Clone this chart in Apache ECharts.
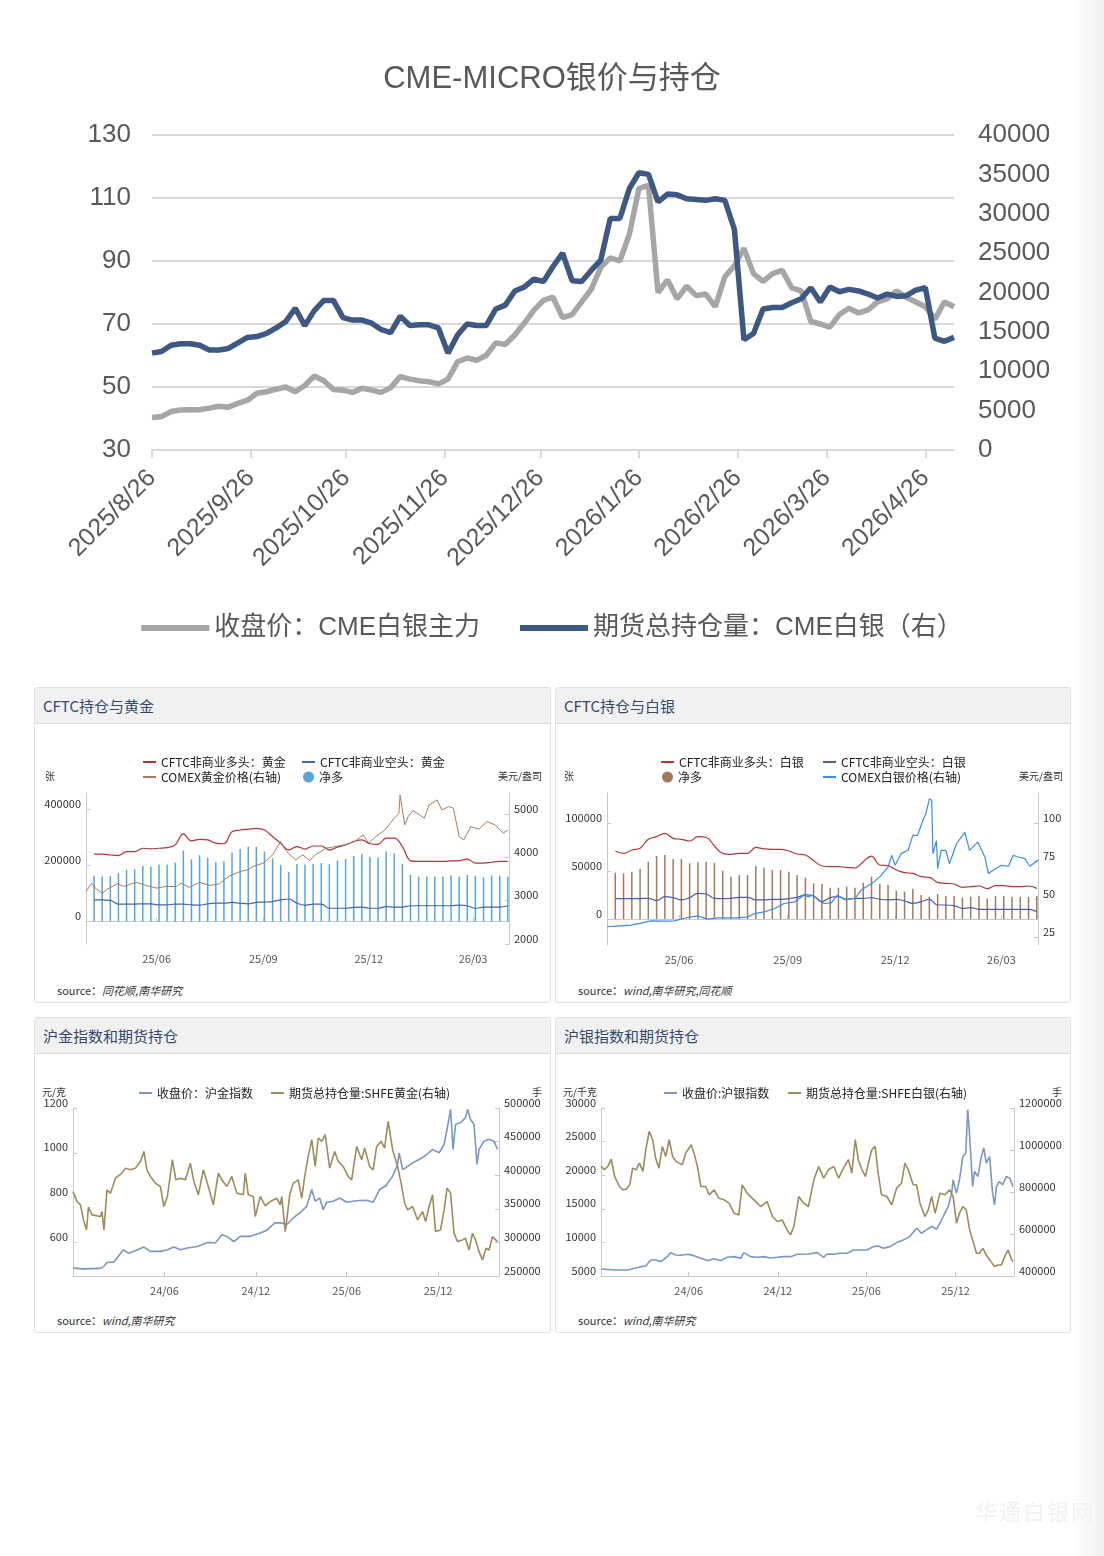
<!DOCTYPE html>
<html lang="zh-CN">
<head>
<meta charset="utf-8">
<title>CME-MICRO银价与持仓</title>
<script src="https://cdn.jsdelivr.net/npm/echarts@6/dist/echarts.min.js"></script>
<style>
  html, body { margin: 0; padding: 0; background: #fff; }
  body { width: 1104px; height: 1556px; position: relative; overflow: hidden; font-family: "Noto Sans CJK SC", "Noto Sans", sans-serif; }
  .chart { position: absolute; }
  .panel { position: absolute; box-sizing: border-box; border: 1px solid #e2e2e2; border-radius: 3px; background: #fff; }
  .panel .hd { height: 35px; line-height: 35px; background: #f1f1f1; border-bottom: 1px solid #dadada; padding-left: 8px; font-size: 15px; color: #33496c; }
  .src { position: absolute; font-size: 11px; color: #333; line-height: 16px; }
  .src i { font-style: italic; }
  .edge { position: absolute; right: 0; top: 0; width: 30px; height: 1556px; background: linear-gradient(to right, rgba(255,255,255,0), #f1f1f1); }
  .mark { position: absolute; left: 975px; top: 1494px; font-size: 22px; color: #f1f1f1; letter-spacing: 2px; }
</style>
</head>
<body>
<div id="cme" class="chart" style="left:0;top:0;width:1104px;height:670px"></div>

<div class="panel" style="left:34px;top:687px;width:517px;height:316px"><div class="hd">CFTC持仓与黄金</div></div>
<div class="panel" style="left:555px;top:687px;width:516px;height:316px"><div class="hd">CFTC持仓与白银</div></div>
<div class="panel" style="left:34px;top:1017px;width:517px;height:316px"><div class="hd">沪金指数和期货持仓</div></div>
<div class="panel" style="left:555px;top:1017px;width:516px;height:316px"><div class="hd">沪银指数和期货持仓</div></div>

<div id="goldCftc" class="chart" style="left:34px;top:724px;width:517px;height:255px"></div>
<div id="silverCftc" class="chart" style="left:555px;top:724px;width:516px;height:255px"></div>
<div id="goldShfe" class="chart" style="left:34px;top:1054px;width:517px;height:255px"></div>
<div id="silverShfe" class="chart" style="left:555px;top:1054px;width:516px;height:255px"></div>

<div class="src" style="left:57px;top:982px">source：<i>同花顺,南华研究</i></div>
<div class="src" style="left:578px;top:982px">source：<i>wind,南华研究,同花顺</i></div>
<div class="src" style="left:57px;top:1312px">source：<i>wind,南华研究</i></div>
<div class="src" style="left:578px;top:1312px">source：<i>wind,南华研究</i></div>

<div class="edge"></div>
<div class="mark">华通白银网</div>

<script>
// ---------- 数据 ----------
// CME 图：从 2025-08-26 起每 3 天读一个点
const cmeStartDate = '2025-08-26';
const cmeEndDate = '2026-05-05';
const cmeStepDays = 3;
const cmeTickDates = ['2025-08-26', '2025-09-26', '2025-10-26', '2025-11-26', '2025-12-26',
  '2026-01-26', '2026-02-26', '2026-03-26', '2026-04-26'];
const cmePrice = [
  40.3, 40.6, 42.2, 42.7, 42.8, 42.8, 43.3, 43.9, 43.6, 44.8,
  45.8, 48.0, 48.5, 49.3, 50.0, 48.5, 50.5, 53.5, 52.0, 49.2,
  49.0, 48.3, 49.6, 49.0, 48.3, 49.8, 53.3, 52.5, 52.0, 51.7,
  51.0, 52.5, 58.0, 59.2, 58.5, 60.0, 64.0, 63.5, 66.5, 70.3,
  74.4, 77.5, 78.5, 72.0, 73.0, 77.0, 81.0, 88.0, 91.0, 90.0,
  98.5, 113.0, 114.0, 80.0, 84.0, 78.0, 82.0, 79.0, 79.5, 75.5,
  85.0, 88.5, 94.0, 86.0, 83.5, 86.0, 87.0, 81.5, 80.5, 70.8,
  70.0, 69.0, 73.0, 75.0, 73.5, 74.5, 77.0, 78.0, 80.5, 78.5,
  77.0, 75.5, 71.5, 77.0, 75.5
];
const cmeOpenInterest = [
  12300, 12500, 13300, 13500, 13500, 13300, 12700, 12700, 12900, 13600,
  14300, 14400, 14800, 15500, 16300, 18000, 15800, 17700, 19000, 19000,
  16800, 16500, 16500, 16100, 15300, 14900, 17000, 15800, 15900, 15900,
  15500, 12300, 14600, 16000, 15800, 15800, 17900, 18400, 20200, 20700,
  21700, 21400, 23300, 25000, 21500, 21400, 22800, 24100, 29400, 29400,
  33200, 35200, 35000, 31500, 32500, 32400, 31900, 31800, 31700, 31900,
  31700, 28000, 14000, 14800, 17900, 18100, 18100, 18700, 19200, 20600,
  18800, 20700, 20100, 20400, 20200, 19800, 19300, 19800, 19500, 19600,
  20300, 20600, 14200, 13800, 14300
];

// CFTC 周度数据
const cftcWeeks = [
  '2025-04-08', '2025-04-15', '2025-04-22', '2025-04-29', '2025-05-06', '2025-05-13', '2025-05-20', '2025-05-27',
  '2025-06-03', '2025-06-10', '2025-06-17', '2025-06-24', '2025-07-01', '2025-07-08', '2025-07-15', '2025-07-22',
  '2025-07-29', '2025-08-05', '2025-08-12', '2025-08-19', '2025-08-26', '2025-09-02', '2025-09-09', '2025-09-16',
  '2025-09-23', '2025-09-30', '2025-10-07', '2025-10-14', '2025-10-21', '2025-10-28', '2025-11-04', '2025-11-11',
  '2025-11-18', '2025-11-25', '2025-12-02', '2025-12-09', '2025-12-16', '2025-12-23', '2025-12-30', '2026-01-06',
  '2026-01-13', '2026-01-20', '2026-01-27', '2026-02-03', '2026-02-10', '2026-02-17', '2026-02-24', '2026-03-03',
  '2026-03-10', '2026-03-17', '2026-03-24', '2026-03-31'
];
const goldLong = [
  240000, 240000, 237000, 235000, 249000, 249000, 261000, 259000, 261000, 263000,
  273000, 312000, 287000, 293000, 291000, 279000, 277000, 320000, 326000, 329000,
  332000, 326000, 303000, 279000, 255000, 267000, 258000, 269000, 269000, 255000,
  265000, 273000, 285000, 291000, 277000, 275000, 297000, 297000, 267000, 217000,
  214000, 214000, 214000, 214000, 216000, 217000, 222000, 208000, 208000, 211000, 214000, 214000
];
const goldShort = [
  77000, 77000, 75000, 62000, 62000, 62000, 63000, 63000, 59000, 59000,
  62000, 62000, 59000, 58000, 63000, 65000, 65000, 68000, 65000, 63000,
  68000, 69000, 71000, 77000, 80000, 65000, 58000, 62000, 62000, 47000,
  47000, 47000, 50000, 51000, 47000, 47000, 53000, 51000, 51000, 56000,
  56000, 56000, 56000, 56000, 56000, 58000, 56000, 47000, 51000, 51000, 51000, 56000
];
const goldNet = [
  162600, 160000, 162600, 172000, 184000, 186000, 198000, 196000, 202000, 202000,
  210000, 253000, 222000, 236000, 228000, 211000, 215000, 246000, 258000, 266000,
  266000, 249000, 225000, 202000, 176000, 205000, 202000, 205000, 208000, 204000,
  217000, 223000, 234000, 240000, 231000, 228000, 249000, 243000, 205000, 166000,
  160000, 160000, 160000, 160000, 164000, 160000, 166000, 163000, 157000, 163000, 163000, 160000
];
const comexGold = [
  ['2025-04-01', 3215], ['2025-04-06', 3407], ['2025-04-09', 3292], ['2025-04-15', 3177], ['2025-04-21', 3292],
  ['2025-04-28', 3392], ['2025-05-04', 3330], ['2025-05-10', 3392], ['2025-05-15', 3423], ['2025-05-23', 3353],
  ['2025-06-01', 3292], ['2025-06-09', 3330], ['2025-06-18', 3330], ['2025-06-22', 3407], ['2025-06-29', 3307],
  ['2025-07-08', 3423], ['2025-07-17', 3353], ['2025-07-25', 3392], ['2025-08-03', 3576], ['2025-08-12', 3676],
  ['2025-08-19', 3715], ['2025-08-23', 3792], ['2025-09-01', 3869], ['2025-09-09', 4061], ['2025-09-16', 4369],
  ['2025-09-19', 4215], ['2025-09-24', 4061], ['2025-09-29', 3946], ['2025-10-05', 4061], ['2025-10-11', 3930],
  ['2025-10-16', 4061], ['2025-10-25', 4215], ['2025-11-02', 4253], ['2025-11-10', 4292], ['2025-11-19', 4369],
  ['2025-11-26', 4522], ['2025-12-01', 4330], ['2025-12-07', 4484], ['2025-12-15', 4638], ['2025-12-23', 4907],
  ['2025-12-27', 5022], ['2025-12-28', 5445], ['2026-01-01', 4753], ['2026-01-04', 4945], ['2026-01-08', 5084],
  ['2026-01-14', 4984], ['2026-01-18', 4907], ['2026-01-22', 5214], ['2026-01-29', 5330], ['2026-02-02', 5099],
  ['2026-02-08', 5176], ['2026-02-12', 5138], ['2026-02-17', 4484], ['2026-02-21', 4407], ['2026-02-27', 4715],
  ['2026-03-06', 4653], ['2026-03-13', 4830], ['2026-03-20', 4753], ['2026-03-27', 4561], ['2026-03-31', 4638]
];

const silverLong = [
  71100, 68600, 72100, 73900, 83300, 86100, 89500, 84300, 83300, 81500,
  86100, 85400, 76300, 68600, 67600, 68600, 68600, 74900, 73200, 72800,
  72800, 71100, 67900, 66900, 61000, 55400, 54700, 54700, 54000, 53300,
  59900, 65800, 56400, 55700, 51200, 48400, 47700, 44200, 43500, 38300,
  37300, 36600, 33100, 33800, 34500, 31700, 34800, 34800, 33800, 33800, 34500, 32000
];
const silverShort = [
  21300, 21300, 21300, 21300, 21600, 19200, 23300, 22300, 19900, 22300,
  26800, 26100, 21600, 21300, 21600, 22600, 22600, 19900, 19900, 20600,
  20600, 21300, 22600, 25100, 24000, 18100, 22300, 23300, 20600, 21600,
  21600, 22300, 20600, 19900, 20600, 18800, 16400, 18100, 20600, 14600,
  14600, 13900, 11100, 11800, 10100, 10100, 10100, 10100, 10100, 10100, 10100, 7700
];
const silverNet = [
  48400, 47700, 49500, 52300, 59900, 65800, 66900, 62700, 62700, 58200,
  59200, 59900, 58900, 50500, 44200, 46000, 46000, 55400, 53700, 51200,
  51200, 49500, 46000, 43200, 37300, 36600, 32700, 32700, 33800, 32700,
  38000, 44200, 36600, 35500, 29600, 28600, 31700, 25100, 23300, 26100,
  24000, 24000, 22300, 23300, 24000, 21300, 24000, 24000, 23300, 23300, 23300, 24000
];
const comexSilver = [
  ['2025-04-01', 32.0], ['2025-04-12', 32.6], ['2025-04-21', 33.1], ['2025-04-29', 34.2], ['2025-05-08', 35.9],
  ['2025-05-19', 35.7], ['2025-05-28', 35.9], ['2025-06-08', 38.1], ['2025-06-17', 39.2], ['2025-06-25', 37.0],
  ['2025-07-04', 37.9], ['2025-07-12', 37.9], ['2025-07-21', 37.9], ['2025-07-29', 38.5], ['2025-08-04', 40.7],
  ['2025-08-12', 41.8], ['2025-08-21', 44.0], ['2025-08-29', 47.3], ['2025-09-07', 48.4], ['2025-09-15', 52.8],
  ['2025-09-18', 51.7], ['2025-09-22', 52.8], ['2025-09-27', 49.5], ['2025-10-02', 47.3], ['2025-10-08', 47.7],
  ['2025-10-13', 52.8], ['2025-10-19', 49.9], ['2025-10-28', 50.6], ['2025-11-02', 56.0], ['2025-11-11', 60.4],
  ['2025-11-18', 64.8], ['2025-11-25', 71.3], ['2025-11-28', 79.0], ['2025-12-01', 72.4], ['2025-12-06', 80.1],
  ['2025-12-12', 82.3], ['2025-12-16', 92.1], ['2025-12-20', 92.1], ['2025-12-25', 103.1], ['2025-12-27', 106.3],
  ['2025-12-30', 116.2], ['2026-01-01', 115.1], ['2026-01-02', 80.1], ['2026-01-05', 88.8], ['2026-01-06', 70.2],
  ['2026-01-09', 82.3], ['2026-01-13', 82.3], ['2026-01-16', 73.5], ['2026-01-22', 86.6], ['2026-01-29', 94.3],
  ['2026-02-02', 82.3], ['2026-02-09', 87.7], ['2026-02-15', 77.9], ['2026-02-18', 67.0], ['2026-02-24', 70.2],
  ['2026-03-01', 72.4], ['2026-03-07', 71.8], ['2026-03-11', 79.0], ['2026-03-15', 77.9], ['2026-03-21', 76.8],
  ['2026-03-25', 71.8], ['2026-04-01', 75.7]
];

// 沪金
const shfeGoldIndex = [
  ['2023-12-01', 485], ['2023-12-22', 482], ['2024-01-25', 484], ['2024-02-01', 493], ['2024-02-07', 510],
  ['2024-02-21', 512], ['2024-02-27', 530], ['2024-03-11', 567], ['2024-03-21', 552], ['2024-04-01', 560],
  ['2024-04-21', 579], ['2024-05-04', 560], ['2024-05-24', 560], ['2024-06-07', 567], ['2024-06-20', 579],
  ['2024-07-03', 567], ['2024-07-17', 575], ['2024-08-06', 582], ['2024-08-26', 600], ['2024-09-11', 597],
  ['2024-09-24', 634], ['2024-10-04', 627], ['2024-10-18', 604], ['2024-10-31', 627], ['2024-11-20', 627],
  ['2024-12-10', 642], ['2024-12-23', 654], ['2025-01-08', 687], ['2025-01-22', 687], ['2025-02-01', 679],
  ['2025-02-14', 709], ['2025-03-03', 739], ['2025-03-13', 761], ['2025-03-23', 836], ['2025-03-30', 784],
  ['2025-04-08', 798], ['2025-04-15', 746], ['2025-04-22', 779], ['2025-05-05', 784], ['2025-05-18', 798],
  ['2025-06-01', 779], ['2025-06-14', 784], ['2025-06-27', 787], ['2025-07-11', 788], ['2025-07-24', 779],
  ['2025-08-06', 836], ['2025-08-19', 854], ['2025-09-01', 896], ['2025-09-11', 948], ['2025-09-14', 1000],
  ['2025-09-21', 925], ['2025-09-27', 933], ['2025-10-11', 955], ['2025-10-24', 970], ['2025-11-06', 988],
  ['2025-11-20', 1015], ['2025-12-03', 1000], ['2025-12-13', 1037], ['2025-12-19', 1104], ['2025-12-26', 1194],
  ['2025-12-31', 1015], ['2026-01-05', 1127], ['2026-01-15', 1134], ['2026-01-25', 1157], ['2026-01-29', 1194],
  ['2026-02-04', 1149], ['2026-02-11', 1127], ['2026-02-17', 948], ['2026-02-21', 1015], ['2026-03-03', 1052],
  ['2026-03-13', 1060], ['2026-03-23', 1052], ['2026-03-30', 1015]
];
const shfeGoldOI = [
  ['2023-12-01', 375700], ['2023-12-09', 360800], ['2023-12-16', 355900], ['2023-12-22', 333500], ['2023-12-28', 318600],
  ['2024-01-01', 352400], ['2024-01-08', 341000], ['2024-01-25', 338500], ['2024-01-28', 345900], ['2024-02-01', 318600],
  ['2024-02-07', 378200], ['2024-02-14', 373300], ['2024-02-24', 395600], ['2024-03-08', 403100], ['2024-03-15', 410500],
  ['2024-03-25', 408000], ['2024-04-04', 410500], ['2024-04-14', 420500], ['2024-04-21', 435400], ['2024-04-27', 408000],
  ['2024-05-04', 398100], ['2024-05-14', 388200], ['2024-05-24', 383200], ['2024-05-31', 353400], ['2024-06-07', 368300],
  ['2024-06-17', 423000], ['2024-06-24', 393100], ['2024-07-03', 395600], ['2024-07-13', 393100], ['2024-07-23', 418000],
  ['2024-07-30', 390700], ['2024-08-08', 370800], ['2024-08-18', 408000], ['2024-08-28', 383200], ['2024-09-07', 355900],
  ['2024-09-17', 403100], ['2024-09-24', 393100], ['2024-10-04', 383200], ['2024-10-14', 398100], ['2024-10-24', 373300],
  ['2024-11-06', 370800], ['2024-11-10', 403100], ['2024-11-16', 370800], ['2024-11-26', 368300], ['2024-11-30', 338500],
  ['2024-12-10', 368300], ['2024-12-20', 354400], ['2024-12-30', 360800], ['2025-01-12', 365800], ['2025-01-19', 355900],
  ['2025-01-22', 368300], ['2025-01-29', 316100], ['2025-02-01', 333500], ['2025-02-07', 370800], ['2025-02-14', 388200],
  ['2025-02-24', 393100], ['2025-03-03', 365800], ['2025-03-09', 398100], ['2025-03-16', 427900], ['2025-03-23', 452800],
  ['2025-03-30', 413000], ['2025-04-05', 455300], ['2025-04-12', 450300], ['2025-04-19', 460200], ['2025-04-28', 410500],
  ['2025-05-08', 435400], ['2025-05-15', 420500], ['2025-05-25', 413000], ['2025-06-04', 398100], ['2025-06-11', 393100],
  ['2025-06-21', 442800], ['2025-07-01', 423000], ['2025-07-07', 440300], ['2025-07-17', 413000], ['2025-07-24', 408000],
  ['2025-07-31', 442800], ['2025-08-09', 450300], ['2025-08-16', 440300], ['2025-08-23', 480100], ['2025-09-01', 437900],
  ['2025-09-11', 413000], ['2025-09-18', 388200], ['2025-09-25', 358300], ['2025-10-01', 348400], ['2025-10-11', 353400],
  ['2025-10-21', 333500], ['2025-10-31', 345900], ['2025-11-06', 331000], ['2025-11-13', 353400], ['2025-11-20', 370800],
  ['2025-11-26', 316100], ['2025-12-06', 318600], ['2025-12-13', 348400], ['2025-12-19', 380700], ['2025-12-26', 373300],
  ['2026-01-02', 313600], ['2026-01-09', 301200], ['2026-01-19', 303700], ['2026-01-25', 306200], ['2026-02-01', 288800],
  ['2026-02-08', 313600], ['2026-02-14', 303700], ['2026-02-21', 286300], ['2026-02-28', 273900], ['2026-03-07', 291200],
  ['2026-03-13', 288800], ['2026-03-20', 308600], ['2026-03-30', 301200]
];

// 沪银
const shfeSilverIndex = [
  ['2023-12-04', 6040], ['2024-01-01', 5890], ['2024-01-28', 5890], ['2024-02-10', 6140], ['2024-02-24', 6390],
  ['2024-03-05', 6490], ['2024-03-15', 7390], ['2024-03-25', 7390], ['2024-04-05', 7140], ['2024-04-18', 7880],
  ['2024-04-25', 8480], ['2024-05-06', 8130], ['2024-05-16', 8080], ['2024-05-30', 8230], ['2024-06-12', 8030],
  ['2024-06-26', 7630], ['2024-07-10', 7290], ['2024-07-23', 7580], ['2024-08-06', 7290], ['2024-08-19', 7780],
  ['2024-09-02', 7880], ['2024-09-16', 7630], ['2024-09-22', 8480], ['2024-10-06', 7880], ['2024-10-20', 7780],
  ['2024-11-02', 7880], ['2024-11-16', 7680], ['2024-11-30', 7780], ['2024-12-13', 7880], ['2024-12-27', 7880],
  ['2025-01-10', 8230], ['2025-01-23', 8230], ['2025-02-02', 8280], ['2025-02-20', 8480], ['2025-03-05', 7780],
  ['2025-03-12', 8280], ['2025-03-26', 8230], ['2025-04-08', 8380], ['2025-04-22', 8380], ['2025-05-06', 8880],
  ['2025-05-19', 8880], ['2025-06-02', 8880], ['2025-06-15', 9370], ['2025-06-25', 9470], ['2025-07-06', 9130],
  ['2025-07-20', 9370], ['2025-08-02', 9970], ['2025-08-16', 10370], ['2025-08-29', 10860], ['2025-09-12', 12110],
  ['2025-09-22', 11360], ['2025-10-02', 11860], ['2025-10-13', 12360], ['2025-10-23', 11960], ['2025-10-30', 12850],
  ['2025-11-09', 14340], ['2025-11-16', 15340], ['2025-11-23', 17330], ['2025-11-26', 19310], ['2025-12-03', 17330],
  ['2025-12-09', 19310], ['2025-12-16', 22790], ['2025-12-22', 23290], ['2025-12-26', 29750], ['2025-12-30', 25770],
  ['2026-01-05', 18320], ['2026-01-09', 20560], ['2026-01-16', 19810], ['2026-01-23', 22790], ['2026-01-28', 24040],
  ['2026-02-02', 21800], ['2026-02-09', 22790], ['2026-02-15', 17330], ['2026-02-19', 15590], ['2026-02-23', 18320],
  ['2026-03-01', 19070], ['2026-03-08', 18570], ['2026-03-15', 19810], ['2026-03-22', 19560], ['2026-03-29', 18320]
];
const shfeSilverOI = [
  ['2023-12-04', 921700], ['2023-12-11', 905800], ['2023-12-18', 921700], ['2023-12-25', 956700], ['2024-01-01', 874000],
  ['2024-01-11', 826300], ['2024-01-18', 810300], ['2024-01-25', 813500], ['2024-02-01', 834200], ['2024-02-07', 913700],
  ['2024-02-14', 905800], ['2024-02-21', 937600], ['2024-02-28', 897800], ['2024-03-05', 1001200], ['2024-03-12', 1088700],
  ['2024-03-19', 1048900], ['2024-03-25', 961400], ['2024-04-01', 913700], ['2024-04-08', 1017100], ['2024-04-15', 969400],
  ['2024-04-22', 1048900], ['2024-04-29', 969400], ['2024-05-06', 945600], ['2024-05-12', 937600], ['2024-05-19', 929600],
  ['2024-05-26', 985300], ['2024-06-06', 1025100], ['2024-06-12', 985300], ['2024-06-19', 921700], ['2024-06-26', 826300],
  ['2024-07-06', 826300], ['2024-07-13', 786500], ['2024-07-23', 810300], ['2024-08-02', 770600], ['2024-08-13', 762600],
  ['2024-08-23', 746700], ['2024-09-02', 699000], ['2024-09-12', 691100], ['2024-09-19', 834200], ['2024-09-29', 794500],
  ['2024-10-13', 762600], ['2024-10-27', 730800], ['2024-11-09', 754700], ['2024-11-20', 683100], ['2024-11-30', 659300],
  ['2024-12-10', 667200], ['2024-12-20', 619500], ['2024-12-27', 595600], ['2025-01-03', 635400], ['2025-01-13', 778500],
  ['2025-01-23', 746700], ['2025-02-02', 730800], ['2025-02-13', 858100], ['2025-02-23', 921700], ['2025-03-05', 866000],
  ['2025-03-15', 905800], ['2025-03-26', 921700], ['2025-04-05', 866000], ['2025-04-15', 913700], ['2025-04-25', 953500],
  ['2025-05-02', 889900], ['2025-05-09', 1048900], ['2025-05-16', 945600], ['2025-05-23', 905800], ['2025-05-30', 874000],
  ['2025-06-05', 937600], ['2025-06-12', 1001200], ['2025-06-19', 1017100], ['2025-06-25', 889900], ['2025-07-02', 786500],
  ['2025-07-13', 778500], ['2025-07-23', 738800], ['2025-08-02', 818300], ['2025-08-12', 842200], ['2025-08-19', 937600],
  ['2025-08-26', 905800], ['2025-09-05', 834200], ['2025-09-12', 834200], ['2025-09-19', 746700], ['2025-09-29', 683100],
  ['2025-10-06', 714900], ['2025-10-13', 778500], ['2025-10-20', 699000], ['2025-10-30', 794500], ['2025-11-09', 786500],
  ['2025-11-19', 810300], ['2025-11-26', 778500], ['2025-12-03', 651300], ['2025-12-09', 699000], ['2025-12-16', 730800],
  ['2025-12-23', 714900], ['2025-12-30', 619500], ['2026-01-06', 563800], ['2026-01-13', 508200], ['2026-01-19', 508200],
  ['2026-01-26', 532000], ['2026-02-02', 500200], ['2026-02-12', 468400], ['2026-02-19', 444500], ['2026-02-26', 452500],
  ['2026-03-05', 452500], ['2026-03-12', 492200], ['2026-03-19', 524100], ['2026-03-25', 484300], ['2026-03-29', 468400]
];

const quarterTicks = ['2025-06-01', '2025-09-01', '2025-12-01', '2026-03-01'];
const halfYearTicks = ['2024-06-01', '2024-12-01', '2025-06-01', '2025-12-01'];

// ---------- 工具 ----------
const DAY = 86400000;
const FONT_TOP = '"Liberation Sans", Arial, "Noto Sans CJK SC", sans-serif';
const FONT_S = '"Noto Sans CJK SC", "Noto Sans", sans-serif';
const ts = (s) => {
  const p = s.split('-').map(Number);
  return new Date(p[0], p[1] - 1, p[2]).getTime();
};
const pairs = (list) => list.map((d) => [ts(d[0]), d[1]]);
const weekly = (values) => values.map((v, i) => [ts(cftcWeeks[i]), v]);
const plainNum = (v) => String(v);
const ymLabel = (v) => {
  const d = new Date(v);
  return String(d.getFullYear()).slice(2) + '/' + String(d.getMonth() + 1).padStart(2, '0');
};

// ---------- 大图 ----------
// x 轴用数值轴存时间戳，刻度只放在每月 26 日
const cmeChart = echarts.init(document.getElementById('cme'));
const cmeStart = ts(cmeStartDate);
cmeChart.setOption({
  animation: false,
  title: {
    text: 'CME-MICRO银价与持仓',
    left: 'center',
    top: 59,
    textStyle: { fontSize: 31, fontWeight: 'normal', color: '#595959', fontFamily: FONT_TOP }
  },
  legend: {
    left: 'center',
    top: 615,
    padding: 0,
    icon: 'rect',
    itemWidth: 68,
    itemHeight: 6,
    itemGap: 40,
    textStyle: { fontSize: 26, color: '#595959', fontFamily: FONT_TOP },
    data: ['收盘价：CME白银主力', '期货总持仓量：CME白银（右）']
  },
  grid: { left: 152, right: 150, top: 135, bottom: 220 },
  xAxis: {
    type: 'value',
    min: cmeStart,
    max: ts(cmeEndDate),
    axisLine: { lineStyle: { color: '#d9d9d9', width: 2 } },
    axisTick: { show: true, length: 8, customValues: cmeTickDates.map(ts), lineStyle: { color: '#d9d9d9', width: 2 } },
    axisLabel: {
      customValues: cmeTickDates.map(ts),
      rotate: 45,
      margin: 24,
      fontSize: 25,
      color: '#595959',
      fontFamily: FONT_TOP,
      formatter: (v) => {
        const d = new Date(v);
        return d.getFullYear() + '/' + (d.getMonth() + 1) + '/' + d.getDate();
      }
    },
    splitLine: { show: false }
  },
  yAxis: [
    {
      type: 'value', min: 30, max: 130, interval: 20,
      axisLine: { show: false }, axisTick: { show: false },
      axisLabel: { fontSize: 26, color: '#595959', margin: 21, fontFamily: FONT_TOP, formatter: plainNum },
      splitLine: { lineStyle: { color: '#d9d9d9', width: 2 } }
    },
    {
      type: 'value', min: 0, max: 40000, interval: 5000,
      axisLine: { show: false }, axisTick: { show: false },
      axisLabel: { fontSize: 26, color: '#595959', margin: 24, fontFamily: FONT_TOP, formatter: plainNum },
      splitLine: { show: false }
    }
  ],
  series: [
    {
      name: '收盘价：CME白银主力',
      type: 'line',
      showSymbol: false,
      color: '#a6a6a6',
      lineStyle: { width: 5.5, color: '#a6a6a6' },
      data: cmePrice.map((v, i) => [cmeStart + i * cmeStepDays * DAY, v])
    },
    {
      name: '期货总持仓量：CME白银（右）',
      type: 'line',
      yAxisIndex: 1,
      showSymbol: false,
      color: '#3d5883',
      lineStyle: { width: 5.5, color: '#3d5883' },
      data: cmeOpenInterest.map((v, i) => [cmeStart + i * cmeStepDays * DAY, v])
    }
  ]
});

// ---------- 小图公用 ----------
function timeAxis(min, max, ticks) {
  const vals = ticks.map(ts);
  return {
    type: 'value', min: ts(min), max: ts(max),
    axisLine: { lineStyle: { color: '#c9c9c9' } },
    axisTick: { show: true, inside: true, length: 4, customValues: vals, lineStyle: { color: '#c9c9c9' } },
    axisLabel: { customValues: vals, margin: 9, fontSize: 11, color: '#555', fontFamily: FONT_S, formatter: ymLabel },
    splitLine: { show: false }
  };
}
function sideAxis(position, min, max, values) {
  return {
    type: 'value', position: position, min: min, max: max,
    axisLine: { show: true, lineStyle: { color: '#c9c9c9' } },
    axisTick: { show: true, inside: true, length: 4, customValues: values, lineStyle: { color: '#c9c9c9' } },
    axisLabel: { customValues: values, margin: 5, fontSize: 11, color: '#333', verticalAlign: 'bottom', fontFamily: FONT_S, formatter: plainNum },
    splitLine: { show: false }
  };
}
function legendItem(name, left, top, circle) {
  return {
    data: [name], left: left, top: top, padding: 0,
    icon: circle ? 'circle' : 'rect',
    itemWidth: circle ? 11 : 13,
    itemHeight: circle ? 11 : 2,
    textStyle: { fontSize: 12, color: '#222', fontFamily: FONT_S }
  };
}
function unitText(text, x, y, align) {
  return {
    type: 'text', x: x, y: y,
    style: { text: text, fill: '#333', fontSize: 10, fontFamily: FONT_S, textAlign: align, textVerticalAlign: 'middle' }
  };
}
function lineSeries(name, color, data, opts) {
  return Object.assign({
    name: name, type: 'line', showSymbol: false, color: color,
    lineStyle: { width: 1.2, color: color }, data: data
  }, opts || {});
}

// ---------- CFTC 黄金 ----------
const goldCftc = echarts.init(document.getElementById('goldCftc'));
goldCftc.setOption({
  animation: false,
  grid: { left: 52, right: 42, top: 69, bottom: 35 },
  legend: [
    legendItem('CFTC非商业多头：黄金', 109, 32),
    legendItem('CFTC非商业空头：黄金', 268, 32),
    legendItem('COMEX黄金价格(右轴)', 109, 47),
    legendItem('净多', 269, 47, true)
  ],
  graphic: [unitText('张', 11, 52, 'left'), unitText('美元/盎司', 508, 52, 'right')],
  xAxis: timeAxis('2025-04-01', '2026-04-01', quarterTicks),
  yAxis: [
    sideAxis('left', -80400, 458000, [0, 200000, 400000]),
    sideAxis('right', 2000, 5490, [2000, 3000, 4000, 5000])
  ],
  series: [
    { name: '净多', type: 'bar', barWidth: 1.5, color: '#5aa3e3', itemStyle: { color: '#5aa3e3' }, data: weekly(goldNet) },
    lineSeries('CFTC非商业多头：黄金', '#b3353a', weekly(goldLong), { smooth: 0.4 }),
    lineSeries('CFTC非商业空头：黄金', '#4565ad', weekly(goldShort), { smooth: 0.4 }),
    lineSeries('COMEX黄金价格(右轴)', '#a87c5c', pairs(comexGold), { yAxisIndex: 1, lineStyle: { width: 1, color: '#a87c5c' } })
  ]
});

// ---------- CFTC 白银 ----------
const silverCftc = echarts.init(document.getElementById('silverCftc'));
silverCftc.setOption({
  animation: false,
  grid: { left: 52, right: 33, top: 69, bottom: 34 },
  legend: [
    legendItem('CFTC非商业多头：白银', 106, 32),
    legendItem('CFTC非商业空头：白银', 268, 32),
    legendItem('净多', 107, 47, true),
    legendItem('COMEX白银价格(右轴)', 268, 47)
  ],
  graphic: [unitText('张', 9, 52, 'left'), unitText('美元/盎司', 508, 52, 'right')],
  xAxis: timeAxis('2025-04-01', '2026-04-01', quarterTicks),
  yAxis: [
    sideAxis('left', -27200, 131700, [0, 50000, 100000]),
    sideAxis('right', 20, 120, [25, 50, 75, 100])
  ],
  series: [
    { name: '净多', type: 'bar', barWidth: 1.5, color: '#a37a5c', itemStyle: { color: '#a37a5c' }, data: weekly(silverNet) },
    lineSeries('CFTC非商业多头：白银', '#b3353a', weekly(silverLong), { smooth: 0.4 }),
    lineSeries('CFTC非商业空头：白银', '#4d5fa8', weekly(silverShort), { smooth: 0.4 }),
    lineSeries('COMEX白银价格(右轴)', '#3a8ee4', pairs(comexSilver), { yAxisIndex: 1 })
  ]
});

// ---------- 沪金 ----------
const goldShfe = echarts.init(document.getElementById('goldShfe'));
goldShfe.setOption({
  animation: false,
  grid: { left: 39, right: 52, top: 54, bottom: 33 },
  legend: [
    legendItem('收盘价：沪金指数', 105, 33),
    legendItem('期货总持仓量:SHFE黄金(右轴)', 237, 33)
  ],
  graphic: [unitText('元/克', 8, 38, 'left'), unitText('手', 508, 38, 'right')],
  xAxis: timeAxis('2023-12-01', '2026-04-02', halfYearTicks),
  yAxis: [
    sideAxis('left', 450, 1200, [600, 800, 1000, 1200]),
    sideAxis('right', 250000, 500000, [250000, 300000, 350000, 400000, 450000, 500000])
  ],
  series: [
    lineSeries('收盘价：沪金指数', '#7b97c4', pairs(shfeGoldIndex), { lineStyle: { width: 1.6, color: '#7b97c4' } }),
    lineSeries('期货总持仓量:SHFE黄金(右轴)', '#a08b5b', pairs(shfeGoldOI), { yAxisIndex: 1, lineStyle: { width: 1.6, color: '#a08b5b' } })
  ]
});

// ---------- 沪银 ----------
const silverShfe = echarts.init(document.getElementById('silverShfe'));
silverShfe.setOption({
  animation: false,
  grid: { left: 46, right: 57, top: 54, bottom: 33 },
  legend: [
    legendItem('收盘价:沪银指数', 109, 33),
    legendItem('期货总持仓量:SHFE白银(右轴)', 233, 33)
  ],
  graphic: [unitText('元/千克', 8, 38, 'left'), unitText('手', 507, 38, 'right')],
  xAxis: timeAxis('2023-12-04', '2026-03-31', halfYearTicks),
  yAxis: [
    sideAxis('left', 5000, 30000, [5000, 10000, 15000, 20000, 25000, 30000]),
    sideAxis('right', 400000, 1200000, [400000, 600000, 800000, 1000000, 1200000])
  ],
  series: [
    lineSeries('收盘价:沪银指数', '#7b97c4', pairs(shfeSilverIndex), { lineStyle: { width: 1.6, color: '#7b97c4' } }),
    lineSeries('期货总持仓量:SHFE白银(右轴)', '#a08b5b', pairs(shfeSilverOI), { yAxisIndex: 1, lineStyle: { width: 1.6, color: '#a08b5b' } })
  ]
});
</script>
</body>
</html>
